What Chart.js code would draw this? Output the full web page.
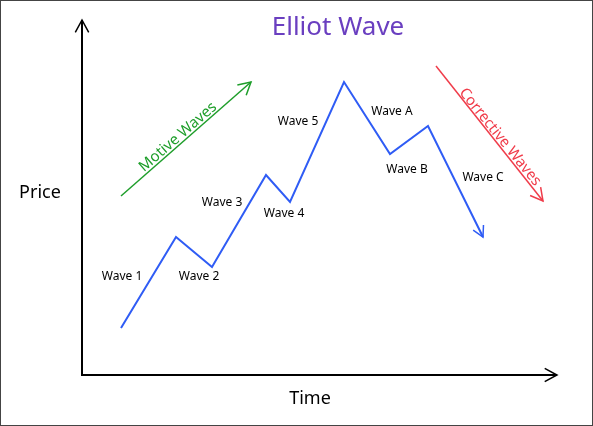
<!DOCTYPE html>
<html>
<head>
<meta charset="utf-8">
<script src="https://cdn.jsdelivr.net/npm/chart.js@4"></script>
<style>
  html, body { margin: 0; padding: 0; background: #fff; }
  #wrap { width: 593px; height: 426px; }
</style>
</head>
<body>
<div id="wrap"><canvas id="chart"></canvas></div>
<script>
// Datos de la onda (tiempo, precio)
const waveTime = [39, 94, 130, 184, 208, 262, 308, 346, 401];
const wavePrice = [47, 138, 108, 200, 173, 293, 221, 249, 138];
const waveLabels = ["Wave 1", "Wave 2", "Wave 3", "Wave 4", "Wave 5", "Wave A", "Wave B", "Wave C"];
const labelTime = [40, 117, 140, 202, 216, 310, 325, 401];
const labelPrice = [98, 98, 172, 161, 253, 263, 205, 197];

const motiveTime = [39, 169];
const motivePrice = [179, 293];
const correctiveTime = [354, 461];
const correctivePrice = [309, 174];

const toPts = (xs, ys) => xs.map((x, i) => ({ x: x, y: ys[i] }));
const FONT = "'Noto Sans', sans-serif";

function arrowHead(ctx, x1, y1, x2, y2, color, size) {
  const a = Math.atan2(y2 - y1, x2 - x1);
  ctx.save();
  ctx.strokeStyle = color;
  ctx.lineWidth = 1.5;
  ctx.beginPath();
  ctx.moveTo(x2 - size * Math.cos(a - 0.5), y2 - size * Math.sin(a - 0.5));
  ctx.lineTo(x2, y2);
  ctx.lineTo(x2 - size * Math.cos(a + 0.5), y2 - size * Math.sin(a + 0.5));
  ctx.stroke();
  ctx.restore();
}

const decor = {
  id: "decor",
  beforeDraw(chart) {
    const ctx = chart.ctx;
    ctx.save();
    ctx.fillStyle = "#fff";
    ctx.fillRect(0, 0, chart.width, chart.height);
    ctx.restore();
  },
  afterDraw(chart) {
    const ctx = chart.ctx;
    const xs = chart.scales.x, ys = chart.scales.y;
    const a = chart.chartArea;
    ctx.save();
    // borde
    ctx.strokeStyle = "#444";
    ctx.lineWidth = 1;
    ctx.strokeRect(0.5, 0.5, chart.width - 1, chart.height - 1);
    // ejes
    ctx.strokeStyle = "#000";
    ctx.lineWidth = 2;
    ctx.beginPath();
    ctx.moveTo(a.left, a.top);
    ctx.lineTo(a.left, a.bottom);
    ctx.lineTo(a.right, a.bottom);
    ctx.stroke();
    arrowHead(ctx, a.left, a.bottom, a.left, a.top, "#000", 14);
    arrowHead(ctx, a.left, a.bottom, a.right, a.bottom, "#000", 14);
    // flechas de las series
    const last = waveTime.length - 1;
    arrowHead(ctx, xs.getPixelForValue(waveTime[last - 1]), ys.getPixelForValue(wavePrice[last - 1]),
      xs.getPixelForValue(waveTime[last]), ys.getPixelForValue(wavePrice[last]), "#2f5cf5", 12);
    arrowHead(ctx, xs.getPixelForValue(motiveTime[0]), ys.getPixelForValue(motivePrice[0]),
      xs.getPixelForValue(motiveTime[1]), ys.getPixelForValue(motivePrice[1]), "#1e9e2a", 14);
    arrowHead(ctx, xs.getPixelForValue(correctiveTime[0]), ys.getPixelForValue(correctivePrice[0]),
      xs.getPixelForValue(correctiveTime[1]), ys.getPixelForValue(correctivePrice[1]), "#f03c4a", 14);
    // textos
    ctx.textAlign = "center";
    ctx.textBaseline = "middle";
    ctx.fillStyle = "#6a3fc0";
    ctx.font = "26px " + FONT;
    ctx.fillText("Elliot Wave", 338, 28);
    ctx.fillStyle = "#000";
    ctx.font = "18px " + FONT;
    ctx.fillText("Price", 40, 193);
    ctx.fillText("Time", 310, 399);
    ctx.font = "12px " + FONT;
    waveLabels.forEach((t, i) => {
      ctx.fillText(t, xs.getPixelForValue(labelTime[i]), ys.getPixelForValue(labelPrice[i]));
    });
    ctx.font = "15px " + FONT;
    ctx.save();
    ctx.translate(178, 137);
    ctx.rotate(-41 * Math.PI / 180);
    ctx.fillStyle = "#1e9e2a";
    ctx.fillText("Motive Waves", 0, 0);
    ctx.restore();
    ctx.save();
    ctx.translate(500, 137);
    ctx.rotate(51 * Math.PI / 180);
    ctx.fillStyle = "#f03c4a";
    ctx.fillText("Corrective Waves", 0, 0);
    ctx.restore();
    ctx.restore();
  }
};

new Chart(document.getElementById("chart"), {
  type: "scatter",
  data: {
    datasets: [
      { data: toPts(waveTime, wavePrice), showLine: true, borderColor: "#2f5cf5", borderWidth: 2, pointRadius: 0, tension: 0 },
      { data: toPts(motiveTime, motivePrice), showLine: true, borderColor: "#1e9e2a", borderWidth: 1.5, pointRadius: 0 },
      { data: toPts(correctiveTime, correctivePrice), showLine: true, borderColor: "#f03c4a", borderWidth: 1.5, pointRadius: 0 }
    ]
  },
  options: {
    responsive: true,
    maintainAspectRatio: false,
    animation: false,
    layout: { padding: { left: 82, right: 36, top: 20, bottom: 51 } },
    scales: {
      x: { type: "linear", min: 0, max: 475, display: false },
      y: { type: "linear", min: 0, max: 355, display: false }
    },
    plugins: { legend: { display: false }, tooltip: { enabled: false } }
  },
  plugins: [decor]
});
</script>
</body>
</html>
